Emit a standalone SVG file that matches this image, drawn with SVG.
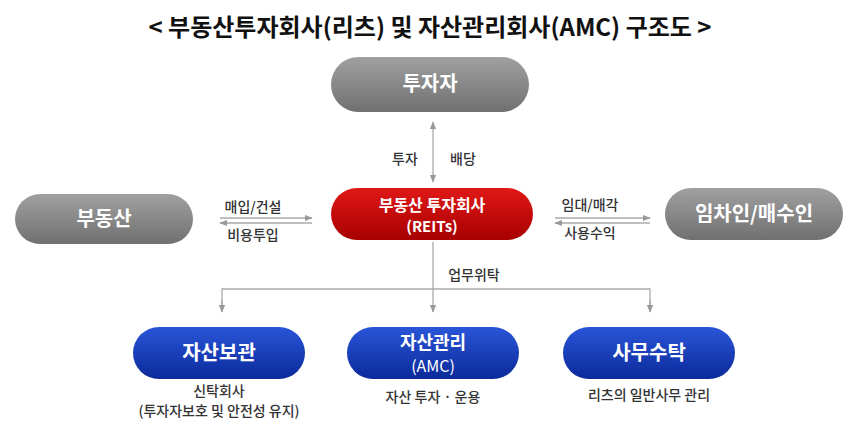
<svg xmlns="http://www.w3.org/2000/svg" width="860" height="443" viewBox="0 0 860 443">
<defs>
<linearGradient id="gr" x1="0" y1="0" x2="0" y2="1"><stop offset="0" stop-color="#a0a0a0"/><stop offset="1" stop-color="#707070"/></linearGradient>
<linearGradient id="rd" x1="0" y1="0" x2="0" y2="1"><stop offset="0" stop-color="#e01818"/><stop offset="1" stop-color="#a80000"/></linearGradient>
<linearGradient id="bl" x1="0" y1="0" x2="0" y2="1"><stop offset="0" stop-color="#2a55d8"/><stop offset="1" stop-color="#0a2a9a"/></linearGradient>
<marker id="ar" viewBox="0 0 10 10" refX="9" refY="5" markerWidth="6" markerHeight="6" orient="auto-start-reverse"><path d="M0,1 L10,5 L0,9 z" fill="#999"/></marker>
<style>
text{font-family:"Noto Sans CJK KR","Noto Sans",sans-serif;text-anchor:middle}
.n{font-size:20px;font-weight:bold;fill:#fff}
.l{font-size:14px;fill:#333;font-weight:500}
.c{stroke:#aaa;stroke-width:1.3;fill:none}
</style>
</defs>
<text x="430" y="36" style="font-size:24px;font-weight:bold;fill:#111">&lt; 부동산투자회사(리츠) 및 자산관리회사(AMC) 구조도 &gt;</text>
<g id="connectors">
<line class="c" x1="433" y1="122" x2="433" y2="182" marker-start="url(#ar)" marker-end="url(#ar)"/>
<line class="c" x1="220" y1="218" x2="312" y2="218" marker-end="url(#ar)"/>
<line class="c" x1="312" y1="223" x2="220" y2="223" marker-end="url(#ar)"/>
<line class="c" x1="555" y1="218" x2="650" y2="218" marker-end="url(#ar)"/>
<line class="c" x1="650" y1="223" x2="555" y2="223" marker-end="url(#ar)"/>
<line class="c" x1="433" y1="242" x2="433" y2="312" marker-end="url(#ar)"/>
<polyline class="c" points="222,312 222,289 650,289 650,312"/>
<line class="c" x1="222" y1="300" x2="222" y2="312" marker-end="url(#ar)"/>
<line class="c" x1="650" y1="300" x2="650" y2="312" marker-end="url(#ar)"/>
<text class="l" x="405" y="164" font-weight="bold">투자</text>
<text class="l" x="463" y="164" font-weight="bold">배당</text>
<text class="l" x="253" y="212">매입/건설</text>
<text class="l" x="253" y="240">비용투입</text>
<text class="l" x="590" y="210">임대/매각</text>
<text class="l" x="590" y="238">사용수익</text>
<text class="l" x="474" y="280">업무위탁</text>
</g>
<g id="n-investor"><rect x="331" y="57" width="198" height="55" rx="27.5" fill="url(#gr)"/><text class="n" x="430" y="91">투자자</text></g>
<g id="n-realestate"><rect x="15" y="194" width="178" height="50" rx="25" fill="url(#gr)"/><text class="n" x="104" y="226">부동산</text></g>
<g id="n-reits"><rect x="331" y="188" width="202" height="52" rx="26" fill="url(#rd)"/><text class="n" x="432" y="211" style="font-size:16px">부동산 투자회사</text><text class="n" x="432" y="232" style="font-size:15px">(REITs)</text></g>
<g id="n-tenant"><rect x="665" y="188" width="178" height="52" rx="26" fill="url(#gr)"/><text class="n" x="754" y="221">임차인/매수인</text></g>
<g id="n-custody"><rect x="133" y="327" width="172" height="52" rx="26" fill="url(#bl)"/><text class="n" x="219" y="360">자산보관</text>
<text class="l" x="219" y="396">신탁회사</text><text class="l" x="219" y="416">(투자자보호 및 안전성 유지)</text></g>
<g id="n-amc"><rect x="347" y="327" width="172" height="52" rx="26" fill="url(#bl)"/><text class="n" x="433" y="349" style="font-size:18px">자산관리</text><text class="n" x="433" y="372" style="font-weight:normal;font-size:16px">(AMC)</text>
<text class="l" x="433" y="402">자산 투자 · 운용</text></g>
<g id="n-admin"><rect x="563" y="327" width="172" height="52" rx="26" fill="url(#bl)"/><text class="n" x="649" y="360">사무수탁</text>
<text class="l" x="649" y="400">리츠의 일반사무 관리</text></g>
</svg>
